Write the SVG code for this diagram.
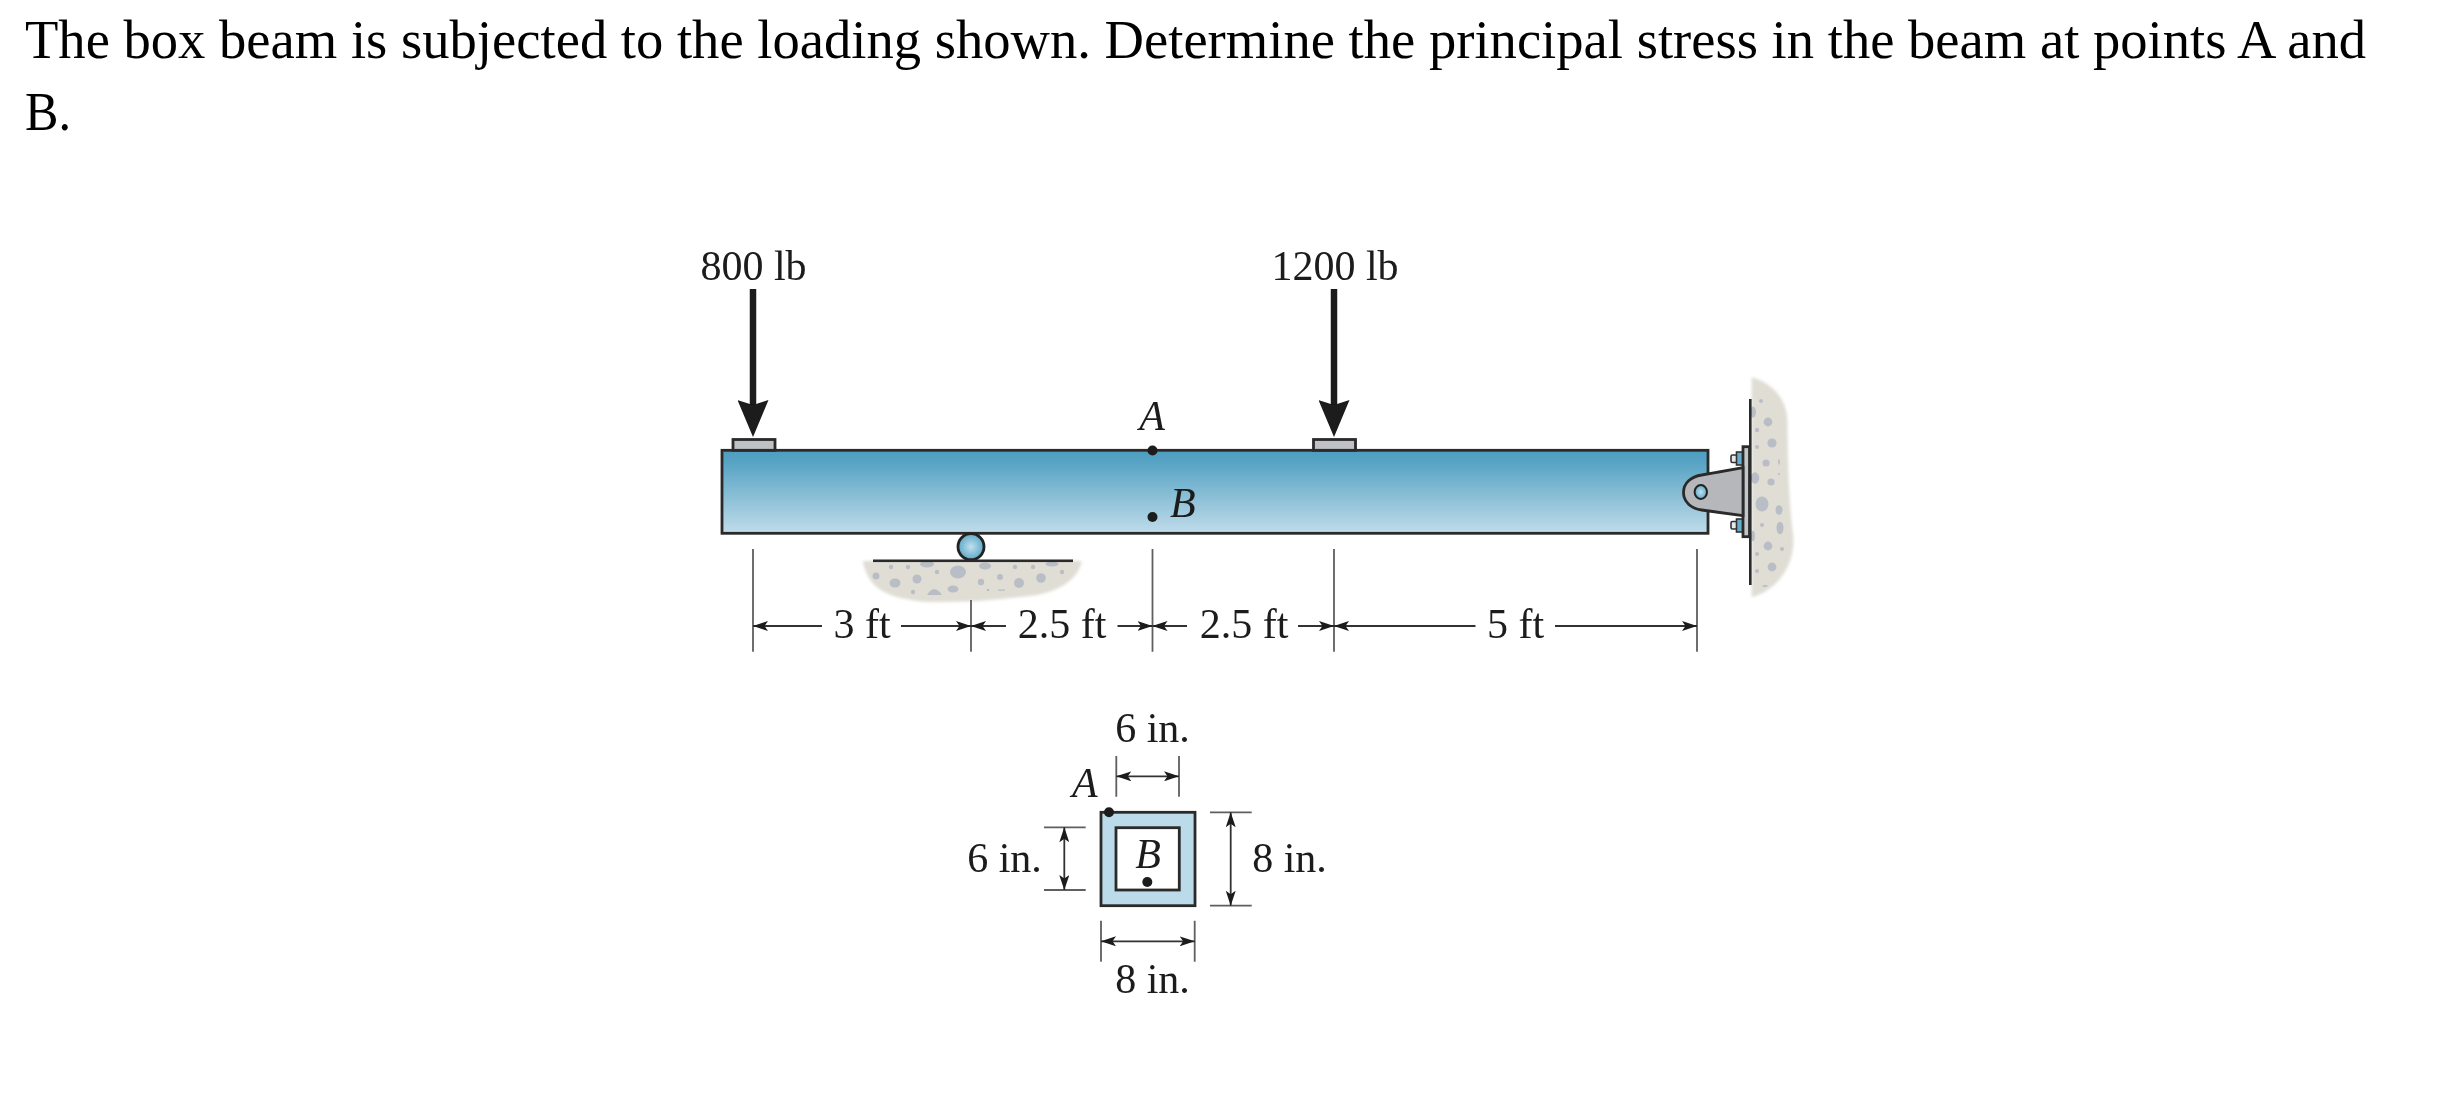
<svg xmlns="http://www.w3.org/2000/svg" width="2438" height="1098" viewBox="0 0 2438 1098">
<style>
text{font-family:"Liberation Serif","Times New Roman",serif;fill:#1a1a1a;font-size:42px}
.h{font-size:54px;fill:#000}
.i{font-style:italic}
.m{text-anchor:middle}
.tick{stroke:#5f5f5f;stroke-width:1.8;fill:none}
.dim{stroke:#333;stroke-width:1.8;fill:none;marker-start:url(#sm);marker-end:url(#sm)}
.dim1{stroke:#333;stroke-width:1.8;fill:none;marker-end:url(#sm)}
.dim0{stroke:#333;stroke-width:1.8;fill:none;marker-start:url(#sm)}
.force{stroke:#1a1a1a;stroke-width:6.5;fill:none;marker-end:url(#big)}
.o{stroke:#2b2b2b;stroke-width:2.8}
.dot{fill:#1c1c1c}
.conc{fill:#dfddd4}
.sp{fill:#b9bec6}
</style>
<defs>
<marker id="sm" viewBox="0 0 15 10" refX="15" refY="5" markerWidth="15" markerHeight="10" markerUnits="userSpaceOnUse" orient="auto-start-reverse"><path d="M0,0L15,5L0,10L3.5,5Z" fill="#1a1a1a"/></marker>
<marker id="big" viewBox="0 0 37 31" refX="5" refY="15.5" markerWidth="37" markerHeight="31" markerUnits="userSpaceOnUse" orient="auto"><path d="M0,0L37,15.5L0,31L5,15.5Z" fill="#1a1a1a"/></marker>
<linearGradient id="beamG" x1="0" y1="0" x2="0" y2="1"><stop offset="0" stop-color="#4d9ec0"/><stop offset="0.12" stop-color="#55a2c3"/><stop offset="1" stop-color="#c0dcea"/></linearGradient>
<radialGradient id="ball" cx="0.5" cy="0.5" r="0.6"><stop offset="0" stop-color="#c0e0ee"/><stop offset="1" stop-color="#4d9ec0"/></radialGradient>
<filter id="soft" x="-2%" y="-2%" width="104%" height="104%"><feGaussianBlur stdDeviation="0.6"/></filter>
<filter id="soft2" x="-5%" y="-5%" width="110%" height="110%"><feGaussianBlur stdDeviation="1.6"/></filter>
</defs>
<g id="question">
<text class="h" x="25" y="58" textLength="2341" lengthAdjust="spacingAndGlyphs">The box beam is subjected to the loading shown. Determine the principal stress in the beam at points A and</text>
<text class="h" x="25" y="130" textLength="46" lengthAdjust="spacingAndGlyphs">B.</text>
</g>
<g id="figure" filter="url(#soft)">
<g id="ground">
<path class="conc" filter="url(#soft2)" d="M862.7,561 C868,585 880,597 923,601.7 C960,603 1000,600 1037,595 C1060,590 1078,580 1081.7,561Z"/>
<g class="sp">
<ellipse cx="876" cy="576" rx="3.5" ry="3.5"/><ellipse cx="895" cy="583" rx="5.5" ry="4.5"/><circle cx="891" cy="567" r="2.2"/><circle cx="908" cy="567" r="2.2"/><circle cx="917" cy="579" r="4.5"/><circle cx="913" cy="592" r="2.2"/><ellipse cx="927" cy="564" rx="7" ry="3.5"/><ellipse cx="958" cy="572" rx="8" ry="6.5"/><circle cx="937" cy="572" r="2.2"/><path d="M927,595Q934,583 942,595Z"/><ellipse cx="953" cy="589" rx="5.5" ry="3.5"/><circle cx="981" cy="582" r="3.2"/><ellipse cx="985" cy="566" rx="6" ry="3.5"/><circle cx="1000" cy="577" r="3"/><circle cx="988" cy="590" r="1.3"/><rect x="998" y="589.5" width="7" height="1.3"/><circle cx="1015" cy="567" r="2.2"/><circle cx="1033" cy="567" r="2.2"/><circle cx="1019" cy="583" r="5"/><circle cx="1041" cy="578" r="4.8"/><circle cx="1062" cy="572" r="2.2"/><ellipse cx="1052" cy="564" rx="6.5" ry="2.5"/>
</g>
</g>
<g id="wall">
<path class="conc" filter="url(#soft2)" d="M1751.7,377.3C1773,383 1787,400 1787.3,420C1788,453 1788,497 1793.3,537C1795,570 1773,592 1751.7,597.3Z"/>
<g class="sp">
<circle cx="1761" cy="401" r="2"/><ellipse cx="1753" cy="412" rx="3" ry="5.5"/><circle cx="1768" cy="422" r="4.4"/><circle cx="1757" cy="430" r="2.2"/><circle cx="1772" cy="443" r="4.6"/><circle cx="1757" cy="447" r="2"/><circle cx="1766" cy="463" r="3.6"/><ellipse cx="1779" cy="462" rx="0.9" ry="3"/><circle cx="1779" cy="474" r="1.1"/><ellipse cx="1755" cy="478" rx="4.3" ry="5.7"/><circle cx="1771" cy="482" r="3.6"/><ellipse cx="1762" cy="504" rx="6.5" ry="7.5"/><ellipse cx="1779" cy="510" rx="3.5" ry="4.8"/><circle cx="1762" cy="525" r="2"/><ellipse cx="1780" cy="528" rx="3.5" ry="6.2"/><ellipse cx="1753" cy="536" rx="2" ry="5.3"/><circle cx="1768" cy="546" r="4.4"/><circle cx="1782" cy="549" r="2"/><circle cx="1757" cy="554" r="2"/><circle cx="1772" cy="567" r="4.4"/><circle cx="1757" cy="571" r="2"/><ellipse cx="1765" cy="586" rx="2.8" ry="1.1"/>
</g>
<rect x="1749" y="399" width="2.6" height="186" fill="#2b2b2b"/>
</g>
<g id="beam">
<rect class="o" x="722" y="450.3" width="986" height="83" fill="url(#beamG)"/>
</g>
<g id="plate-left"><rect class="o" x="733" y="439.5" width="42" height="10.8" fill="#bfc1c4"/></g>
<g id="plate-right"><rect class="o" x="1313.5" y="439.5" width="42" height="10.8" fill="#bfc1c4"/></g>
<g id="roller">
<circle cx="971" cy="546.7" r="13" fill="url(#ball)" stroke="#222" stroke-width="2.8"/>
<rect x="873" y="559.5" width="200" height="2.6" fill="#2b2b2b"/>
</g>
<g id="bracket">
<rect x="1731" y="455" width="6" height="7.5" rx="1.5" fill="#e6e8ea" stroke="#333" stroke-width="1.6"/>
<rect x="1731" y="521.5" width="6" height="7.5" rx="1.5" fill="#e6e8ea" stroke="#333" stroke-width="1.6"/>
<rect x="1736.5" y="452" width="6.5" height="13" fill="#66aecb" stroke="#333" stroke-width="1.6"/>
<rect x="1736.5" y="519" width="6.5" height="13" fill="#66aecb" stroke="#333" stroke-width="1.6"/>
<rect class="o" x="1743" y="446.7" width="6.5" height="90" fill="#c3c5c8" stroke-width="2.2"/>
<path class="o" fill="#b5b7ba" d="M1743,467.7L1701.7,475C1691,476.5 1683.5,483 1683.5,492.5C1683.5,502 1691,508.5 1701.7,510L1743,515.7Z"/>
<ellipse cx="1700.8" cy="492" rx="6.2" ry="7" fill="url(#ball)" stroke="#222" stroke-width="2"/>
</g>
<g id="section">
<path fill-rule="evenodd" fill="#bcdbea" d="M1101,812.3H1195V905.7H1101ZM1116,827.7H1179.3V890H1116Z"/>
<rect x="1101" y="812.3" width="94" height="93.4" fill="none" stroke="#2b2b2b" stroke-width="2.8"/>
<rect x="1116" y="827.7" width="63.3" height="62.3" fill="#fff" stroke="#2b2b2b" stroke-width="2.8"/>
</g>
<g id="connectors">
<path class="force" d="M753,289V405"/>
<path class="force" d="M1334,289V405"/>
<path class="tick" d="M753,549V651.7M971,600V651.7M1152.5,549V651.7M1334,549V651.7M1697,549V651.7"/>
<path class="dim0" d="M753,626H822"/>
<path class="dim1" d="M901,626H971"/>
<path class="dim0" d="M971,626H1006"/>
<path class="dim1" d="M1117.5,626H1152.5"/>
<path class="dim0" d="M1152.5,626H1187"/>
<path class="dim1" d="M1298,626H1334"/>
<path class="dim0" d="M1334,626H1475.5"/>
<path class="dim1" d="M1555,626H1697"/>
<path class="tick" d="M1116.3,756V796.7M1179,756V796.7M1044,827.3H1085.7M1044,890H1085.7M1210,812.3H1251.7M1210,905.7H1251.7M1101,920.7V961.7M1194.7,920.7V961.7"/>
<path class="dim" d="M1116.3,776.3H1179"/>
<path class="dim" d="M1064.3,827.3V890"/>
<path class="dim" d="M1230.7,812.3V905.7"/>
<path class="dim" d="M1101,941.3H1194.7"/>
</g>
<g id="points">
<circle class="dot" cx="1152.5" cy="450.5" r="5"/>
<circle class="dot" cx="1152.5" cy="517" r="5"/>
<circle class="dot" cx="1109" cy="812.3" r="5"/>
<circle class="dot" cx="1147.3" cy="882" r="5"/>
</g>
<g id="labels">
<text class="m" x="753.5" y="280">800 lb</text>
<text class="m" x="1335" y="280">1200 lb</text>
<text class="i m" x="1152" y="430">A</text>
<text class="i" x="1170" y="517">B</text>
<text class="m" x="862" y="638">3 ft</text>
<text class="m" x="1062" y="638">2.5 ft</text>
<text class="m" x="1244" y="638">2.5 ft</text>
<text class="m" x="1515.5" y="638">5 ft</text>
<text class="m" x="1152.5" y="742">6 in.</text>
<text class="i" x="1072" y="797">A</text>
<text class="m" x="1004.5" y="872.3">6 in.</text>
<text class="i m" x="1148" y="868">B</text>
<text class="m" x="1289.5" y="872.3">8 in.</text>
<text class="m" x="1152.5" y="993.3">8 in.</text>
</g>
</g>
</svg>
